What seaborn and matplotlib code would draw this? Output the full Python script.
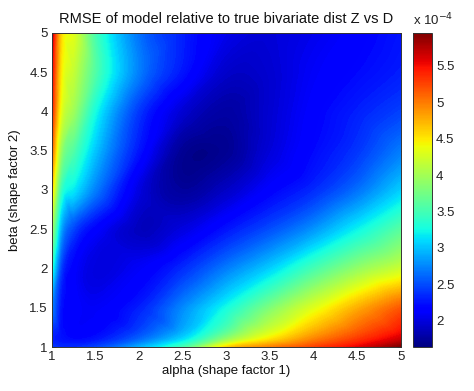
import numpy as np
import matplotlib
matplotlib.use("Agg")
import matplotlib.pyplot as plt
import matplotlib.tri as mtri
import seaborn as sns

# grid of shape factors (alpha along x, beta along y)
alpha = [1, 1.1, 1.25, 1.5, 2, 2.5, 3, 3.5, 4, 4.5, 5]
beta = [1, 1.1, 1.5, 2, 2.5, 3, 3.5, 4, 4.5, 5]

# RMSE values, in units of 1e-4, one row per beta
rmse_b1_0 = [2.40, 2.35, 2.35, 2.45, 2.90, 3.50, 4.55, 4.95, 5.25, 5.55, 5.95]
rmse_b1_1 = [2.30, 2.25, 2.20, 2.25, 2.60, 3.10, 3.90, 4.50, 4.95, 5.30, 5.65]
rmse_b1_5 = [2.70, 2.25, 2.15, 2.10, 2.30, 2.75, 3.25, 3.80, 4.30, 4.75, 5.15]
rmse_b2_0 = [3.30, 2.45, 2.15, 2.00, 2.10, 2.35, 2.70, 3.05, 3.50, 3.90, 4.20]
rmse_b2_5 = [3.95, 2.90, 2.45, 2.15, 1.88, 2.00, 2.25, 2.50, 2.80, 3.20, 3.60]
rmse_b3_0 = [4.55, 3.45, 3.15, 2.70, 2.00, 1.75, 1.90, 2.15, 2.35, 2.65, 3.05]
rmse_b3_5 = [5.05, 3.95, 3.55, 3.00, 2.25, 1.72, 1.72, 1.98, 2.20, 2.40, 2.70]
rmse_b4_0 = [5.35, 4.35, 3.95, 3.25, 2.40, 1.95, 1.78, 1.95, 2.15, 2.30, 2.45]
rmse_b4_5 = [5.50, 4.50, 4.15, 3.55, 2.70, 2.25, 1.92, 1.95, 2.10, 2.20, 2.30]
rmse_b5_0 = [5.65, 4.60, 4.30, 3.50, 2.65, 2.30, 2.05, 1.98, 2.05, 2.15, 2.25]

cbar_ticks = [2, 2.5, 3, 3.5, 4, 4.5, 5, 5.5]
axis_ticks = [1, 1.5, 2, 2.5, 3, 3.5, 4, 4.5, 5]

sns.set_style("white")
plt.rcParams["font.family"] = ["Liberation Sans", "DejaVu Sans"]

Z = np.array([rmse_b1_0, rmse_b1_1, rmse_b1_5, rmse_b2_0, rmse_b2_5,
              rmse_b3_0, rmse_b3_5, rmse_b4_0, rmse_b4_5, rmse_b5_0]) * 1e-4
A, B = np.meshgrid(alpha, beta)
vmin, vmax = 1.64e-4, 5.95e-4

# smooth surface drawn through the read values by matplotlib's tri refiner
tri = mtri.Triangulation(A.ravel(), B.ravel())
interp = mtri.CubicTriInterpolator(tri, Z.ravel(), kind="geom")
tri_fine, z_fine = mtri.UniformTriRefiner(tri).refine_field(
    Z.ravel(), triinterpolator=interp, subdiv=4)

fig = plt.figure(figsize=(4.74, 3.91), dpi=100)
ax = fig.add_axes([52 / 474, 1 - 347 / 391, 349 / 474, 314 / 391])
cax = fig.add_axes([413 / 474, 1 - 347 / 391, 19 / 474, 314 / 391])

cf = ax.tricontourf(tri_fine, z_fine, levels=np.linspace(vmin, vmax, 200),
                    cmap="jet", vmin=vmin, vmax=vmax, extend="both")
cf.set_edgecolor("face")
cf.set_linewidth(0.3)
cf.set_rasterized(True)
ax.set_xlim(1, 5)
ax.set_ylim(1, 5)
ax.set_xticks(axis_ticks)
ax.set_yticks(axis_ticks)
ax.set_xticklabels([f"{t:g}" for t in axis_ticks])
ax.set_yticklabels([f"{t:g}" for t in axis_ticks])
ax.tick_params(direction="in", length=3, width=0.6, top=True, right=True,
               bottom=True, left=True, labelsize=9.5, colors="#222222", pad=3)
for s in ax.spines.values():
    s.set_color("#333333")
    s.set_linewidth(0.7)
ax.set_title("RMSE of model relative to true bivariate dist Z vs D",
             fontsize=10.5, pad=7, color="#111111")
ax.set_xlabel("alpha (shape factor 1)", fontsize=9.5, labelpad=1, color="#111111")
ax.set_ylabel("beta (shape factor 2)", fontsize=9.5, labelpad=6, color="#111111")

sm = plt.cm.ScalarMappable(norm=plt.Normalize(vmin, vmax), cmap="jet")
cb = fig.colorbar(sm, cax=cax)
cb.set_ticks([t * 1e-4 for t in cbar_ticks])
cb.set_ticklabels([f"{t:g}" for t in cbar_ticks])
cax.tick_params(direction="in", length=3, width=0.6, left=True, right=True,
                labelsize=9.5, colors="#222222", pad=3)
cb.outline.set_edgecolor("#333333")
cb.outline.set_linewidth(0.7)
cax.text(0.0, 1.015, "x 10$^{-4}$", transform=cax.transAxes, fontsize=9.5,
         ha="left", va="bottom", color="#222222")

fig.savefig("out.png", dpi=100)
